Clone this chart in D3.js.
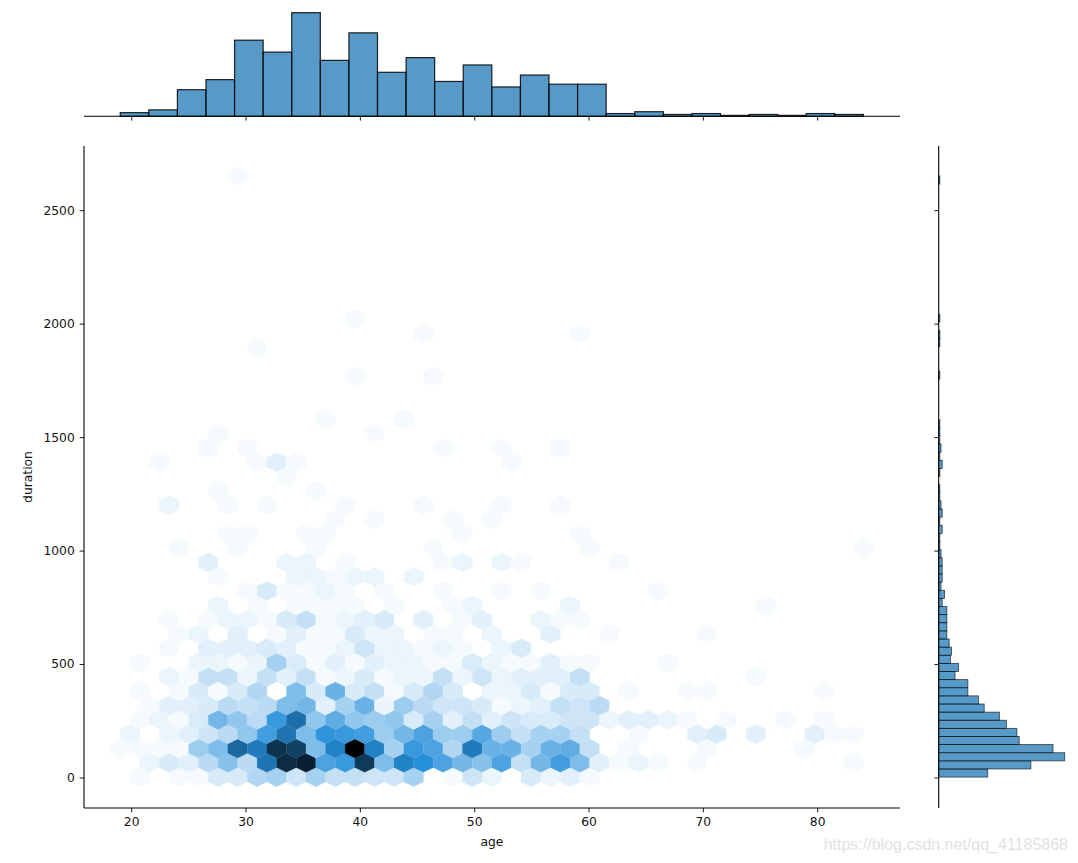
<!DOCTYPE html>
<html><head><meta charset="utf-8">
<script src="https://cdnjs.cloudflare.com/ajax/libs/d3/7.8.5/d3.min.js"></script>
<style>html,body{margin:0;padding:0;background:#fff}svg{display:block}</style>
</head><body><div id="c"></div>
<script>
// Extent of the hexagonal lattice (age, duration) and its size
const ageMin = 19, ageMax = 84, durMin = 4, durMax = 2653, gridX = 38, gridY = 21;
// Each row: [half-row index, first half-column, counts at every second half-column; 0 = empty]
const hexRows = [
 [0,2,[1,0,1,1,4,4,8,9,5,9,6,6,5,5,9,0,1,5,2,0,4,2,3,1]],
 [1,3,[2,4,3,7,12,7,26,37,39,18,20,35,13,24,22,18,14,12,18,6,14,19,13,3,1,2,1,0,1,0,0,0,0,0,0,0,1]],
 [2,0,[1,1,1,1,10,13,28,25,36,34,13,24,44,24,9,20,18,8,25,15,15,9,15,16,6,0,1,0,0,0,1,0,0,0,0,1]],
 [3,1,[2,0,2,3,5,7,11,19,26,13,21,20,19,10,14,18,10,10,17,10,6,9,9,6,0,0,1,0,0,3,4,0,3,0,0,3,1,1]],
 [4,2,[1,2,1,4,14,11,7,20,27,11,16,11,10,11,4,9,3,6,3,5,4,4,5,5,2,3,3,2,1,0,1,0,0,1,0,1]],
 [5,3,[1,3,3,4,7,6,7,13,14,3,9,15,2,10,7,5,5,4,1,2,3,6,5,7]],
 [6,2,[1,0,1,4,1,4,8,0,13,4,15,4,6,1,4,8,4,0,2,2,4,1,4,4,0,1,0,0,1,1,0,0,0,0,0,1]],
 [7,5,[2,1,6,6,2,6,3,6,1,2,4,1,2,2,6,2,5,2,3,3,3,6,0,0,0,0,0,0,0,0,1]],
 [8,2,[1,0,0,2,2,1,2,9,4,1,3,1,3,2,2,1,1,4,2,1,1,3,1,1,0,0,0,1]],
 [9,5,[1,0,3,3,3,4,3,1,1,2,5,2,2,1,2,1,0,2,4]],
 [10,6,[1,2,0,3,0,1,3,1,1,4,2,2,0,1,1,0,2,0,0,3,0,0,1,0,0,0,0,1]],
 [11,5,[1,0,1,2,2,1,4,6,1,2,3,4,0,3,0,1,3,0,0,2,1,1]],
 [12,10,[2,0,1,0,1,1,1,1,0,1,0,0,1,2,0,0,0,0,2,0,0,0,0,0,0,0,0,0,1]],
 [13,13,[1,4,1,1,2,1,0,1,0,0,1,0,0,1,0,1,0,0,0,0,0,1]],
 [14,10,[1,0,0,0,2,2,1,2,2,0,2]],
 [15,9,[3,0,0,0,2,2,0,1,0,0,0,0,1,2,0,2,1,0,0,0,0,1]],
 [16,6,[1,0,0,1,0,0,0,1,0,0,0,0,0,1,0,0,0,0,0,0,0,1,0,0,0,0,0,0,0,0,0,0,0,0,0,1]],
 [17,11,[1,1,0,0,1,1,0,0,0,0,0,0,1,0,0,0,0,0,1]],
 [18,22,[1,0,1,0,0,0,1,0,1]],
 [19,5,[2,0,0,1,0,1,0,0,0,1,0,0,0,1,0,0,0,1,0,0,1]],
 [20,10,[1,0,0,0,0,1]],
 [21,17,[1]],
 [22,4,[1,0,0,0,0,1,3,1,0,0,0,0,0,0,0,0,0,0,1]],
 [23,9,[1,0,1,0,0,0,0,0,0,0,0,0,1,0,0,1,0,0,1]],
 [24,10,[1,0,0,0,0,0,0,0,1]],
 [25,21,[1,0,0,0,1]],
 [28,24,[1,0,0,0,1]],
 [30,14,[1]],
 [31,31,[1,0,0,0,0,0,0,0,1]],
 [32,24,[1]],
 [42,12,[1]]
];
// Histogram of age (bins of 2.5 years from 19)
const ageBinWidth = 2.5;
const ageCounts = [4,7,29,40,83,70,113,61,91,48,64,38,56,32,45,35,35,3,5,2,3,1,2,1,3,2];
// Histogram of duration (74 bins from 4 to 2653)
const durCounts = [42,79,108,98,69,67,58,52,39,34,25,25,14,17,10,11,9,7,7,7,7,3,5,2,3,3,3,2,1,1,3,1,3,2,1,1,0,1,3,1,2,1,1,1,0,0,0,0,0,1,0,0,0,1,1,0,1,0,0,0,0,0,0,0,0,0,0,0,0,0,0,0,0,1];
const ageTicks = [20,30,40,50,60,70,80];
const durTicks = [0,500,1000,1500,2000,2500];
const ageLabel = "age", durLabel = "duration";
const watermark = "https://blog.csdn.net/qq_41185868";

const W = 1078, H = 863;
const svg = d3.select("#c").append("svg").attr("width",W).attr("height",H);
const font = "'DejaVu Sans',sans-serif", tickFont = 12.3;
const x = d3.scaleLinear().domain([15.83,87.2]).range([84,900]);
const y = d3.scaleLinear().domain([-132.2,2785]).range([808,146]);
const topY = d3.scaleLinear().domain([0,118.65]).range([116.3,7.5]);
const rightX = d3.scaleLinear().domain([0,113.4]).range([938.7,1071]);

// Hexagons
const sx = (ageMax-ageMin)/gridX, sy = (durMax-durMin)/gridY;
const hexCells = hexRows.flatMap(([row,start,counts]) =>
  counts.map((c,i)=>({age:ageMin+(start+2*i)*sx/2, dur:durMin+row*sy/2, c})).filter(d=>d.c>0));
const maxCount = d3.max(hexCells,d=>d.c);
const hexColor = c => d3.hsl(205,0.71,1-c/maxCount).formatHex();
const hexShape = [[.5,-.5],[.5,.5],[0,1],[-.5,.5],[-.5,-.5],[0,-1]];
const hexLine = d3.line().curve(d3.curveLinearClosed);
svg.append("g").selectAll("path").data(hexCells).join("path")
  .attr("d",d=>hexLine(hexShape.map(([a,b])=>[x(d.age+a*sx),y(d.dur+b*sy/3)])))
  .attr("fill",d=>hexColor(d.c)).attr("stroke",d=>hexColor(d.c)).attr("stroke-width",0.3);

// Marginal histograms
const barFill = "#1f77b4", barStroke = "#000";
svg.append("g").selectAll("rect").data(ageCounts).join("rect")
  .attr("x",(d,i)=>x(ageMin+i*ageBinWidth))
  .attr("width",x(ageMin+ageBinWidth)-x(ageMin))
  .attr("y",d=>topY(d)).attr("height",d=>topY(0)-topY(d))
  .attr("fill",barFill).attr("fill-opacity",.75).attr("stroke",barStroke).attr("stroke-opacity",.85).attr("stroke-width",1.2);
const durBin = (durMax-durMin)/durCounts.length;
svg.append("g").selectAll("rect").data(durCounts.map((c,i)=>({c,i})).filter(d=>d.c>0)).join("rect")
  .attr("x",rightX(0)).attr("width",d=>rightX(d.c)-rightX(0))
  .attr("y",d=>y(durMin+(d.i+1)*durBin))
  .attr("height",d=>y(durMin+d.i*durBin)-y(durMin+(d.i+1)*durBin))
  .attr("fill",barFill).attr("fill-opacity",.75).attr("stroke",barStroke).attr("stroke-opacity",.7).attr("stroke-width",.8);

// Axes
function style(g){
  g.selectAll(".domain").attr("stroke","#000").attr("stroke-width",1.1);
  g.selectAll(".tick line").attr("stroke","#000").attr("stroke-width",.9);
  g.selectAll("text").attr("font-family",font).attr("font-size",tickFont).attr("fill","#111");
}
svg.append("g").attr("transform","translate(0,808)")
  .call(d3.axisBottom(x).offset(0).tickValues(ageTicks).tickSize(4.3).tickSizeOuter(0).tickPadding(4.5)).call(style);
svg.append("g").attr("transform","translate(84,0)")
  .call(d3.axisLeft(y).offset(0).tickValues(durTicks).tickFormat(d3.format("d")).tickSize(4.3).tickSizeOuter(0).tickPadding(5)).call(style);
svg.append("g").attr("transform","translate(0,116.3)")
  .call(d3.axisBottom(x).offset(0).tickValues(ageTicks).tickSize(4.3).tickSizeOuter(0).tickFormat("")).call(style);
svg.append("g").attr("transform","translate(938.7,0)")
  .call(d3.axisLeft(y).offset(0).tickValues(durTicks).tickSize(4.3).tickSizeOuter(0).tickFormat("")).call(style);

// Labels
svg.append("text").attr("x",492).attr("y",846).attr("text-anchor","middle")
  .attr("font-family",font).attr("font-size",tickFont).attr("fill","#111").text(ageLabel);
svg.append("text").attr("transform","translate(31.5,477) rotate(-90)").attr("text-anchor","middle")
  .attr("font-family",font).attr("font-size",tickFont).attr("fill","#111").text(durLabel);
svg.append("text").attr("x",1068).attr("y",850).attr("text-anchor","end")
  .attr("font-family","'Liberation Sans',Arial,sans-serif").attr("font-size",16).attr("fill","#e2e2e2").text(watermark);
</script></body></html>
